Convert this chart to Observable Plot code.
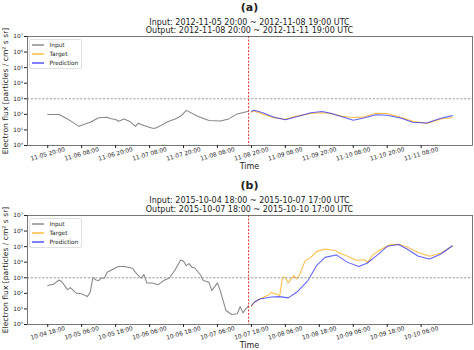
<!DOCTYPE html>
<html><head><meta charset="utf-8">
<script src="https://cdn.jsdelivr.net/npm/d3@7"></script>
<script src="https://cdn.jsdelivr.net/npm/@observablehq/plot@0.6"></script>
<style>
body{margin:0;background:#fff;font-family:"DejaVu Sans",sans-serif;color:#222;}
#root{position:relative;width:474px;height:350px;overflow:hidden;background:#fff;}
.abs{position:absolute;white-space:nowrap;transform:translate(-50%,-50%);line-height:1;}
.panel{position:absolute;left:0;}
.legend{position:absolute;border:0.8px solid #e0e0e0;border-radius:2px;background:rgba(255,255,255,0.85);}
.lg-row{position:absolute;left:0;height:8px;width:100%;}
.lg-line{position:absolute;left:2px;top:3.3px;width:11.5px;height:1.6px;}
.lg-text{position:absolute;left:19.5px;top:0;font-size:5.8px;line-height:8px;}
</style></head>
<body><div id="root"></div>
<script>
// ---------- Panel (a) ----------
const aStart = "2012-11-05T20:00:00Z";
const aTitle = "(a)";
const aSub1 = "Input: 2012-11-05 20:00 ~ 2012-11-08 19:00 UTC";
const aSub2 = "Output: 2012-11-08 20:00 ~ 2012-11-11 19:00 UTC";
const aSplitHour = 71;
const aTickHours = [0,12,24,36,48,60,72,84,96,108,120,132];
const aInputHours = [0,2,4,7,11,15,18,21,22,24,25,27,29,31,32,34,37,38,40,42,45,47,49,53,57,61,64,67,71];
const aInputFlux  = [98,98,97,51,17,31,60,66,55,47,36,51,35,17,27,19,13,13,19,31,51,76,180,76,40,38,51,107,158];
const aTargetHours = [72,73,76,80,84,88,93,97,100,104,108,112,116,120,125,129,134,139,143];
const aTargetFlux  = [138,166,100,60,49,79,112,126,112,76,62,69,117,112,62,36,26,51,60];
const aPredHours = [72,73,76,80,84,88,93,97,100,104,108,112,116,120,125,129,134,139,143];
const aPredFlux  = [158,182,126,66,45,69,126,151,117,69,42,60,93,87,56,31,28,56,83];

// ---------- Panel (b) ----------
const bStart = "2015-10-04T18:00:00Z";
const bTitle = "(b)";
const bSub1 = "Input: 2015-10-04 18:00 ~ 2015-10-07 17:00 UTC";
const bSub2 = "Output: 2015-10-07 18:00 ~ 2015-10-10 17:00 UTC";
const bSplitHour = 71;
const bTickHours = [0,12,24,36,48,60,72,84,96,108,120,132];
const bInputHours = [0,2,4,5,7,8,10,12,14,15,16,17,18,19,20,21,25,27,30,31,33,34,35,37,39,41,43,45,47,48,49,50,51,52,54,55,57,58,60,61,63,65,67,68,69,70,71];
const bInputFlux  = [316,380,724,562,174,234,107,93,62,117,1072,724,661,977,933,2239,5248,5370,4074,2239,933,1585,468,468,363,661,977,3162,13804,11482,6026,8128,4677,4266,1514,661,513,151,468,151,7.9,4.4,4.9,14.1,5.6,10,15.8];
const bTargetHours = [72,73,75,78,79,80,81,82,83,84,85,87,88,89,91,93,95,98,102,103,105,106,108,109,112,113,115,118,121,124,127,131,135,139,143];
const bTargetFlux  = [14.5,26.9,43.7,79.4,117,93,89,72,1072,1072,468,1380,851,1514,12589,20417,47863,70795,54954,38905,29512,23988,16218,13183,14454,9772,29512,70795,131826,144544,95499,42658,23988,38905,104713];
const bPredHours = [72,73,75,79,82,85,88,92,95,98,102,106,110,113,117,120,124,127,131,135,139,143];
const bPredFlux  = [16.6,26.9,43.7,58.9,61.7,51.3,117,661,6026,20417,29512,9772,5248,8913,33884,104713,138038,70795,23988,16218,33884,114815];

const yTicks = [1,10,100,1000,10000,100000,1000000,10000000];
const threshold = 1000;
const legendLabels = ["Input","Target","Prediction"];
const yLabel = "Electron flux [particles / cm² s sr]";
const xLabel = "Time";

const colInput = "#7f7f7f", colTarget = "#ffa500", colPred = "#0000ff";
const HOUR = 3600e3;
const SUP = {"0":"⁰","1":"¹","2":"²","3":"³","4":"⁴","5":"⁵","6":"⁶","7":"⁷","8":"⁸","9":"⁹"};
const fmt = d3.utcFormat("%m-%d %H:%M");

function makePanel(cfg){
  const t0 = new Date(cfg.start).getTime();
  const toDate = h => new Date(t0 + h*HOUR);
  const ser = (hs, fs) => hs.map((h,i)=>({t:toDate(h), v:fs[i]}));
  const input = ser(cfg.inH, cfg.inF), target = ser(cfg.tgH, cfg.tgF), pred = ser(cfg.prH, cfg.prF);
  const allH = [...cfg.inH, ...cfg.tgH, ...cfg.prH];
  const [lo, hi] = d3.extent(allH);
  const pad = (hi - lo) * 0.05;
  const ticks = cfg.tickH.map(toDate);
  return Plot.plot({
    width:474, height:175,
    marginTop:cfg.mt, marginBottom:cfg.mb, marginLeft:27, marginRight:2,
    style:{fontFamily:"DejaVu Sans", background:"transparent", overflow:"visible", color:"#222"},
    x:{type:"utc", domain:[toDate(lo-pad), toDate(hi+pad)]},
    y:{type:"log", domain:[1,1e7]},
    marks:[
      Plot.line(input, {x:"t", y:"v", stroke:colInput, strokeWidth:1.05, strokeOpacity:0.95}),
      Plot.line(target, {x:"t", y:"v", stroke:colTarget, strokeWidth:1.05, strokeOpacity:0.72}),
      Plot.line(pred, {x:"t", y:"v", stroke:colPred, strokeWidth:1.05, strokeOpacity:0.62}),
      Plot.ruleY([threshold], {stroke:"#999", strokeDasharray:"2.2,1.6", strokeWidth:1}),
      Plot.ruleX([toDate(cfg.split)], {stroke:"#e02020", strokeDasharray:"2,1.5", strokeWidth:0.9}),
      Plot.frame({stroke:"#555", strokeWidth:0.8}),
      Plot.axisY({ticks:yTicks, tickFormat:d=>"10"+SUP[String(Math.round(Math.log10(d)))], tickSize:3, tickPadding:1.5, fontSize:5.8, label:null, anchor:"left"}),
      Plot.axisX({ticks:ticks, tickFormat:()=>"", tickSize:3, label:null, anchor:"bottom"}),
      Plot.text(ticks, {x:d=>d, text:d=>fmt(d), frameAnchor:"bottom", dy:8.5, rotate:-16, fontSize:5.8, textAnchor:"middle", lineAnchor:"middle", fill:"#222"})
    ]
  });
}

const root = document.getElementById("root");
function addPanel(top, cfg){
  const svg = makePanel(cfg);
  svg.classList.add("panel");
  svg.style.top = top + "px";
  root.appendChild(svg);
}
function addText(txt, x, y, size, extra){
  const d = document.createElement("div");
  d.className = "abs";
  d.textContent = txt;
  d.style.left = x + "px"; d.style.top = y + "px"; d.style.fontSize = size + "px";
  if (extra) Object.assign(d.style, extra);
  root.appendChild(d);
}
function addLegend(left, top){
  const box = document.createElement("div");
  box.className = "legend";
  Object.assign(box.style, {left:left+"px", top:top+"px", width:"51px", height:"28px"});
  const cols = ["#9a9a9a", colTarget, colPred];
  const ops = [0.85, 0.55, 0.5];
  legendLabels.forEach((lab,i)=>{
    const r = document.createElement("div"); r.className = "lg-row"; r.style.top = (1 + i*9) + "px";
    const l = document.createElement("div"); l.className = "lg-line"; l.style.background = cols[i]; l.style.opacity = ops[i];
    const t = document.createElement("div"); t.className = "lg-text"; t.textContent = lab;
    r.appendChild(l); r.appendChild(t); box.appendChild(r);
  });
  root.appendChild(box);
}

addPanel(0, {start:aStart, inH:aInputHours, inF:aInputFlux, tgH:aTargetHours, tgF:aTargetFlux, prH:aPredHours, prF:aPredFlux, split:aSplitHour, tickH:aTickHours, mt:36, mb:30});
addPanel(175, {start:bStart, inH:bInputHours, inF:bInputFlux, tgH:bTargetHours, tgF:bTargetFlux, prH:bPredHours, prF:bPredFlux, split:bSplitHour, tickH:bTickHours, mt:40, mb:26});

const cx = 249.5;
addText(aTitle, cx, 7, 11, {fontWeight:"bold"});
addText(aSub1, cx, 22.5, 8);
addText(aSub2, cx, 31, 8);
addText(xLabel, cx, 166.5, 8);
addText(yLabel, 6, 90.5, 7.6, {transform:"translate(-50%,-50%) rotate(-90deg)"});
addLegend(29, 39);

addText(bTitle, cx, 185, 11, {fontWeight:"bold"});
addText(bSub1, cx, 201, 8);
addText(bSub2, cx, 209.5, 8);
addText(xLabel, cx, 345.5, 8);
addText(yLabel, 6, 269.5, 7.6, {transform:"translate(-50%,-50%) rotate(-90deg)"});
addLegend(29, 218);
</script>
</body></html>
